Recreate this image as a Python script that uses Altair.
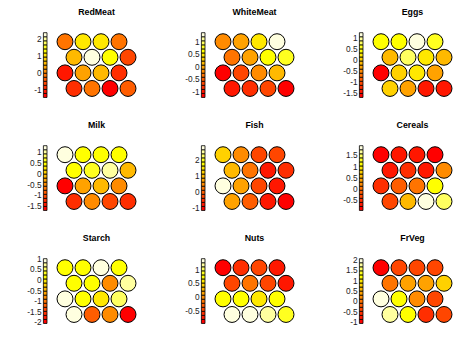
import altair as alt
import pandas as pd
import numpy as np

variables = ["RedMeat", "WhiteMeat", "Eggs", "Milk", "Fish", "Cereals", "Starch", "Nuts", "FrVeg"]

# SOM unit values (4x4 hexagonal grid), rows from the top, units left to right
red_meat = [-0.06, 1.11, 1.11, -0.06, 0.64, 2.40, 1.34, -0.53, -1.00, 0.41, 0.64, -0.76, -0.76, -0.06, -1.35, -0.20]
white_meat = [-0.13, 0.10, 0.52, 1.41, -0.30, 0.03, 0.72, 0.84, -1.10, -0.55, -0.13, 0.19, -0.95, -0.85, -0.62, -1.19]
eggs = [0.50, 0.46, 1.29, 0.64, -0.05, 0.83, 0.30, -0.10, -1.67, 0.00, 0.27, -0.28, 0.09, -0.20, -1.39, -1.45]
milk = [1.34, 0.58, 0.50, 0.45, 0.50, 0.62, 1.00, -0.06, -1.65, -0.20, -0.06, -0.38, -1.10, -0.43, -1.00, -1.18]
fish = [1.20, 0.50, -0.18, -0.18, 0.95, 0.32, -0.68, -0.43, 2.95, 0.82, -0.30, -0.68, 0.82, 0.07, -0.80, -1.06]
cereals = [-0.85, -0.64, -0.64, -0.91, -0.64, -0.46, -0.70, 0.20, -0.46, -0.10, 0.12, 1.16, -0.28, 0.62, 1.97, 1.52]
starch = [0.25, 0.25, 1.00, 0.25, 0.25, 0.19, -0.77, 0.77, 1.06, 0.25, 0.00, 0.58, 0.95, -1.15, -0.77, -2.02]
nuts = [-0.93, -0.56, -0.45, -0.71, -0.41, -0.12, -0.41, -0.71, 0.70, 0.77, 0.62, 0.70, 1.43, 1.36, 1.21, 0.85]
fr_veg = [-1.01, -0.33, -0.33, -0.33, 0.06, 0.45, 0.45, 0.75, 2.11, 1.23, 0.26, -0.33, 1.75, 1.30, -0.52, -0.40]

unit_values = [red_meat, white_meat, eggs, milk, fish, cereals, starch, nuts, fr_veg]

z_min = [-1.35, -1.19, -1.67, -1.65, -1.06, -0.91, -2.02, -0.93, -1.01]
z_max = [2.40, 1.41, 1.29, 1.34, 2.95, 1.97, 1.06, 1.43, 2.11]

key_ticks = [
    [-1, 0, 1, 2],
    [-1, -0.5, 0, 0.5, 1],
    [-1.5, -1, -0.5, 0, 0.5, 1],
    [-1.5, -1, -0.5, 0, 0.5, 1],
    [-1, 0, 1, 2],
    [-0.5, 0, 0.5, 1, 1.5],
    [-2, -1.5, -1, -0.5, 0, 0.5, 1],
    [-0.5, 0, 0.5, 1],
    [-1, -0.5, 0, 0.5, 1, 1.5, 2],
]

heat16 = ["#FF0000", "#FF1700", "#FF2E00", "#FF4600", "#FF5D00", "#FF7400",
          "#FF8B00", "#FFA200", "#FFB900", "#FFD100", "#FFE800", "#FFFF00",
          "#FFFF20", "#FFFF60", "#FFFF9F", "#FFFFDF"]
NCOL = len(heat16)

# layout (pixels per grid unit, panel size, origin of grid inside a panel)
PX = 18.0
W = 158.0
H = 338.0 / 3
X0 = 47.0
Y0 = 41.7
ROW_H = np.sqrt(3) / 2
BAR_TOP = Y0 - 0.5 * PX
BAR_BOT = Y0 + (3 * ROW_H + 0.5) * PX

x_scale = alt.Scale(domain=[-X0 / PX, (W - X0) / PX], nice=False, zero=False)
y_scale = alt.Scale(domain=[-Y0 / PX, (H - Y0) / PX], nice=False, zero=False, reverse=True)
FONT = "Liberation Sans"


def panel(i):
    vals = unit_values[i]
    zlo, zhi = z_min[i], z_max[i]
    rows = [k // 4 for k in range(16)]
    cols = [k % 4 for k in range(16)]
    units = pd.DataFrame({
        "gx": [c + 1 + 0.5 * (r % 2) for r, c in zip(rows, cols)],
        "gy": [r * ROW_H for r in rows],
        "value": vals,
    })
    edges = np.linspace(zlo, zhi, NCOL + 1)
    key = pd.DataFrame({
        "x1": -0.2, "x2": 0.0,
        "lo": edges[:-1], "hi": edges[1:],
        "value": (edges[:-1] + edges[1:]) / 2,
    })
    ticks = pd.DataFrame({"t": key_ticks[i], "lab": [f"{v:g}" for v in key_ticks[i]], "x": -0.3})

    color_scale = alt.Scale(type="quantize", domain=[zlo, zhi], range=heat16, nice=False, zero=False)
    z_scale = alt.Scale(domain=[zlo, zhi], range=[BAR_BOT, BAR_TOP], nice=False, zero=False)

    bar = alt.Chart(key).mark_rect(stroke="black", strokeWidth=0.8).encode(
        x=alt.X("x1:Q", scale=x_scale, axis=None),
        x2="x2:Q",
        y=alt.Y("lo:Q", scale=z_scale, axis=None),
        y2="hi:Q",
        color=alt.Color("value:Q", scale=color_scale, legend=None),
    )
    labels = alt.Chart(ticks).mark_text(align="right", baseline="middle", font=FONT,
                                        fontSize=8.3, color="#222").encode(
        x=alt.X("x:Q", scale=x_scale, axis=None),
        y=alt.Y("t:Q", scale=z_scale, axis=None),
        text="lab:N",
    )
    circles = alt.Chart(units).mark_point(shape="circle", filled=True, size=np.pi * 81,
                                          stroke="black", strokeWidth=1, opacity=1).encode(
        x=alt.X("gx:Q", scale=x_scale, axis=None),
        y=alt.Y("gy:Q", scale=y_scale, axis=None),
        fill=alt.Fill("value:Q", scale=color_scale, legend=None),
    )
    title = alt.Chart(pd.DataFrame({"name": [variables[i]], "tx": [2.75], "ty": [(12.4 - Y0) / PX]})).mark_text(
        font=FONT, fontSize=8.8, fontWeight="bold", color="black", baseline="middle", align="center").encode(
        x=alt.X("tx:Q", scale=x_scale, axis=None),
        y=alt.Y("ty:Q", scale=y_scale, axis=None),
        text="name:N",
    )
    return alt.layer(bar, labels, circles, title).resolve_scale(y="independent").properties(width=W, height=H)


panels = [panel(i) for i in range(9)]
rows_ = [alt.hconcat(*panels[r * 3:(r + 1) * 3], spacing=0).resolve_scale(color="independent", fill="independent")
         for r in range(3)]
chart = alt.vconcat(*rows_, spacing=0).resolve_scale(color="independent", fill="independent").properties(
    padding=0, background="white"
).configure_view(stroke=None)

chart.save("out.html", embed_options={"renderer": "svg", "actions": False})
